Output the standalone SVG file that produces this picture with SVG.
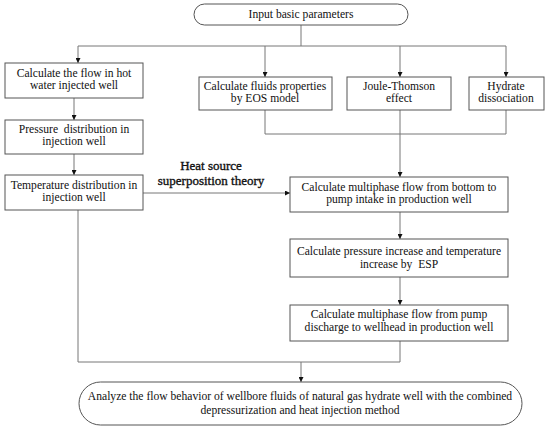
<svg xmlns="http://www.w3.org/2000/svg" width="550" height="430" viewBox="0 0 550 430">
<defs>
<marker id="ah" viewBox="0 0 10 10" refX="10" refY="5" markerWidth="5" markerHeight="5" markerUnits="userSpaceOnUse" orient="auto">
<path d="M0,0 L10,5 L0,10 z" fill="#111"/>
</marker>
</defs>
<style>
.box{fill:#fff;stroke:#555;stroke-width:1}
.ln{fill:none;stroke:#777;stroke-width:1}
.ar{fill:none;stroke:#777;stroke-width:1;marker-end:url(#ah)}
text{font-family:"Liberation Serif","Times New Roman",serif;font-size:11.6px;fill:#111;text-anchor:middle}
.lbl{font-size:13px;stroke:#111;stroke-width:0.35}
</style>
<rect width="550" height="430" fill="#fff"/>
<g id="connectors">
<path class="ln" d="M301,25 V46 M78,46 H506"/>
<path class="ar" d="M78,46 V63"/>
<path class="ar" d="M265,46 V77"/>
<path class="ar" d="M400,46 V77"/>
<path class="ar" d="M506,46 V77"/>
<path class="ar" d="M74,98 V120"/>
<path class="ar" d="M74,154 V175"/>
<path class="ln" d="M265,110 V134 H506 V110"/>
<path class="ar" d="M400,110 V177"/>
<path class="ar" d="M143,193 H290"/>
<path class="ar" d="M400,212 V239"/>
<path class="ar" d="M400,277 V305"/>
<path class="ln" d="M78,210 V362 H400 V341"/>
<path class="ar" d="M301,362 V382"/>
</g>
<g id="start">
<rect class="box" x="194" y="4" width="214" height="21" rx="10.5"/>
<text x="301" y="18">Input basic parameters</text>
</g>
<g id="flow-hot-water">
<rect class="box" x="5" y="63" width="138" height="35"/>
<text x="74" y="77">Calculate the flow in hot</text>
<text x="74" y="89">water injected well</text>
</g>
<g id="pressure-injection">
<rect class="box" x="5" y="120" width="138" height="34"/>
<text x="74" y="133" xml:space="preserve">Pressure  distribution in</text>
<text x="74" y="145">injection well</text>
</g>
<g id="temperature-injection">
<rect class="box" x="5" y="175" width="138" height="35"/>
<text x="74" y="189">Temperature distribution in</text>
<text x="74" y="201">injection well</text>
</g>
<g id="eos">
<rect class="box" x="199" y="77" width="133" height="33"/>
<text x="265" y="90">Calculate fluids properties</text>
<text x="265" y="102">by EOS model</text>
</g>
<g id="joule-thomson">
<rect class="box" x="347" y="77" width="104" height="33"/>
<text x="399" y="90">Joule-Thomson</text>
<text x="399" y="102">effect</text>
</g>
<g id="hydrate">
<rect class="box" x="469" y="77" width="75" height="33"/>
<text x="506" y="90">Hydrate</text>
<text x="506" y="102">dissociation</text>
</g>
<g id="heat-source-label">
<text class="lbl" x="211" y="170">Heat source</text>
<text class="lbl" x="211" y="185">superposition theory</text>
</g>
<g id="multiphase-bottom">
<rect class="box" x="290" y="177" width="218" height="35"/>
<text x="399" y="191">Calculate multiphase flow from bottom to</text>
<text x="399" y="203">pump intake in production well</text>
</g>
<g id="esp">
<rect class="box" x="290" y="239" width="218" height="38"/>
<text x="399" y="255">Calculate pressure increase and temperature</text>
<text x="399" y="268" xml:space="preserve">increase by  ESP</text>
</g>
<g id="multiphase-discharge">
<rect class="box" x="290" y="305" width="218" height="36"/>
<text x="399" y="318">Calculate multiphase flow from pump</text>
<text x="399" y="331">discharge to wellhead in production well</text>
</g>
<g id="end">
<rect class="box" x="79" y="382" width="443" height="43" rx="21.5"/>
<text x="300" y="400">Analyze the flow behavior of wellbore fluids of natural gas hydrate well with the combined</text>
<text x="300" y="414">depressurization and heat injection method</text>
</g>
</svg>
